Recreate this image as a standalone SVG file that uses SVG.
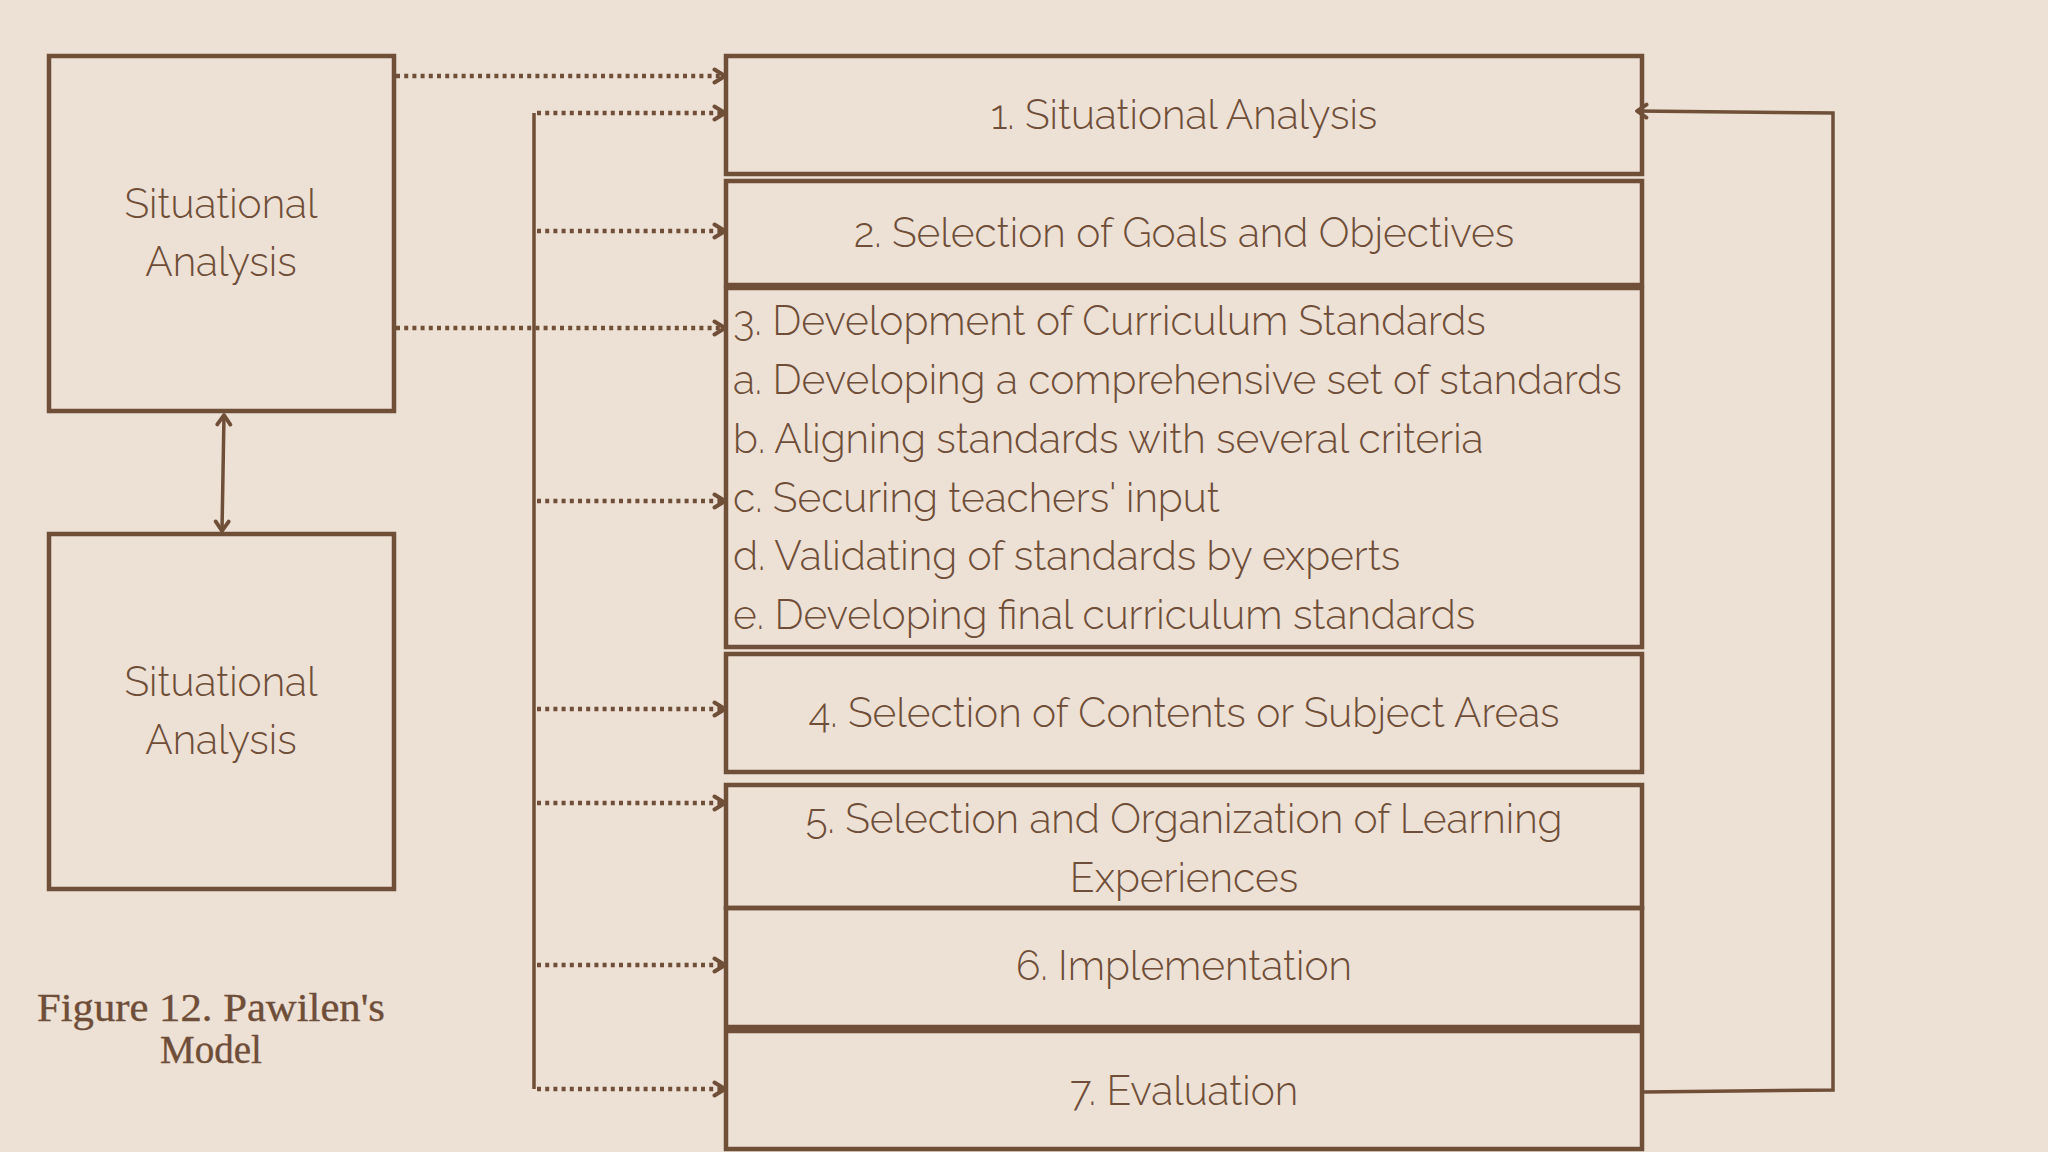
<svg xmlns="http://www.w3.org/2000/svg" width="2048" height="1152" viewBox="0 0 2048 1152">
<defs>
<marker id="chev" viewBox="0 0 16 18" refX="13.5" refY="9" markerWidth="16" markerHeight="18" orient="auto" markerUnits="userSpaceOnUse">
<path d="M3,2.5 L13.5,9 L3,15.5" fill="none" stroke="#704F38" stroke-width="4" stroke-linecap="round" stroke-linejoin="round"/>
</marker>
<marker id="chevS" viewBox="0 0 16 18" refX="13" refY="9" markerWidth="16" markerHeight="18" orient="auto-start-reverse" markerUnits="userSpaceOnUse">
<path d="M3.5,2.5 L13,9 L3.5,15.5" fill="none" stroke="#704F38" stroke-width="3.8" stroke-linecap="round" stroke-linejoin="round"/>
</marker>
<style>
.box{fill:none;stroke:#704F38;stroke-width:4.5}
.t{font-family:Raleway,Lato,"Open Sans",sans-serif;font-weight:300;font-size:40.7px;fill:#6E4E38}
.c{text-anchor:middle}
.dot{fill:none;stroke:#704F38;stroke-width:4.4;stroke-dasharray:4 4.2;marker-end:url(#chev)}
.sol{fill:none;stroke:#704F38;stroke-width:3.5}
.cap{font-family:"Liberation Serif","DejaVu Serif",serif;font-weight:normal;font-size:39px;fill:#6E4E38;stroke:#6E4E38;stroke-width:0.35;text-anchor:middle}
</style>
</defs>
<rect width="2048" height="1152" fill="#EDE0D4"/>

<g id="left1">
<rect class="box" x="49" y="56" width="345" height="355"/>
<text class="t c" x="221" y="218">Situational</text>
<text class="t c" x="221" y="276">Analysis</text>
</g>
<g id="left2">
<rect class="box" x="49" y="534" width="345" height="355"/>
<text class="t c" x="221" y="696">Situational</text>
<text class="t c" x="221" y="754">Analysis</text>
</g>

<g id="box1">
<rect class="box" x="726" y="56" width="916" height="118"/>
<text class="t c" x="1184" y="129">1. Situational Analysis</text>
</g>
<g id="box2">
<rect class="box" x="726" y="181" width="916" height="104"/>
<text class="t c" x="1184" y="247">2. Selection of Goals and Objectives</text>
</g>
<g id="box3">
<rect class="box" x="726" y="288" width="916" height="359"/>
<text class="t" x="733" y="335">3. Development of Curriculum Standards</text>
<text class="t" x="733" y="394">a. Developing a comprehensive set of standards</text>
<text class="t" x="733" y="453">b. Aligning standards with several criteria</text>
<text class="t" x="733" y="512">c. Securing teachers' input</text>
<text class="t" x="733" y="570">d. Validating of standards by experts</text>
<text class="t" x="733" y="629">e. Developing final curriculum standards</text>
</g>
<g id="box4">
<rect class="box" x="726" y="654" width="916" height="118"/>
<text class="t c" x="1184" y="727">4. Selection of Contents or Subject Areas</text>
</g>
<g id="box5">
<rect class="box" x="726" y="785" width="916" height="123"/>
<text class="t c" x="1184" y="833">5. Selection and Organization of Learning</text>
<text class="t c" x="1184" y="892">Experiences</text>
</g>
<g id="box6">
<rect class="box" x="726" y="908" width="916" height="119"/>
<text class="t c" x="1184" y="980">6. Implementation</text>
</g>
<g id="box7">
<rect class="box" x="726" y="1031" width="916" height="118"/>
<text class="t c" x="1184" y="1105">7. Evaluation</text>
</g>

<g id="caption">
<text class="cap" x="211" y="1021" textLength="348" lengthAdjust="spacingAndGlyphs">Figure 12. Pawilen's</text>
<text class="cap" x="211" y="1063">Model</text>
</g>

<g id="connectors">
<path class="dot" d="M396,76 H725"/>
<path class="dot" d="M396,328 H725"/>
<path class="sol" d="M534,113 V1089"/>
<path class="dot" d="M537,113 H725"/>
<path class="dot" d="M537,231 H725"/>
<path class="dot" d="M537,501 H725"/>
<path class="dot" d="M537,709 H725"/>
<path class="dot" d="M537,803 H725"/>
<path class="dot" d="M537,965 H725"/>
<path class="dot" d="M537,1089 H725"/>
<path class="sol" d="M224,415 L222,531" marker-start="url(#chevS)" marker-end="url(#chevS)"/>
<path class="sol" d="M1644,1092 L1833,1090 V113 L1637,111" marker-end="url(#chevS)"/>
</g>
</svg>
